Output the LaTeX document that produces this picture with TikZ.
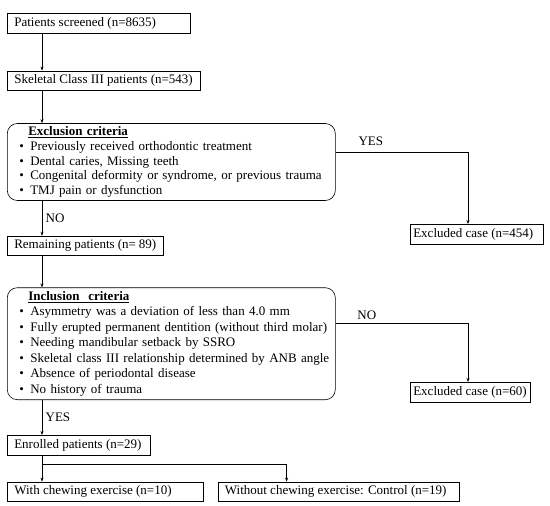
\documentclass[tikz,border=0pt]{standalone}
\usepackage{fontspec}
\setmainfont{Liberation Serif}
\usetikzlibrary{positioning,arrows.meta}

\newcommand{\critem}[1]{\makebox[11pt][l]{\textbullet}\mbox{#1}}

\begin{document}
\begin{tikzpicture}[
    x=1pt, y=-1pt,
    line width=0.6pt,
    font=\fontsize{13}{15}\selectfont,
    stagebox/.style={rectangle, draw, inner xsep=7pt, inner ysep=0pt, minimum height=19.5pt,
        execute at begin node={\hbox to #1\bgroup}, execute at end node={\hfil\egroup}},
    outbox/.style={stagebox=#1, inner xsep=3pt},
    criteria/.style={rectangle, draw, rounded corners=10pt, text width=304pt, align=left, inner xsep=12pt, inner ysep=0pt, minimum height=#1},
    arrow/.style={-{Stealth[length=4pt,width=3pt]}}
]
\useasboundingbox (0,0) rectangle (550,506);

\node[stagebox=169pt, anchor=north west] (screened) at (7,13) {Patients screened (n=8635)};
\node[stagebox=179pt, below=37.5pt of screened.south west, anchor=north west] (skeletal) {Skeletal Class III patients (n=543)};
\node[criteria=77pt, font=\fontsize{13}{14.75}\selectfont, below=32.5pt of skeletal.south west, anchor=north west] (exclusion) {%
    \hspace*{9pt}\underline{\textbf{Exclusion criteria}}\\
    \critem{Previously received orthodontic treatment}\\
    \critem{Dental caries, Missing teeth}\\
    \critem{Congenital deformity or syndrome, or previous trauma}\\
    \critem{TMJ pain or dysfunction}};
\node[stagebox=142pt, below=35pt of exclusion.south west, anchor=north west] (remaining) {Remaining patients (n= 89)};
\node[criteria=112pt, font=\fontsize{13}{15.5}\selectfont, below=31.5pt of remaining.south west, anchor=north west] (inclusion) {%
    \hspace*{9pt}\underline{\textbf{Inclusion\ \ criteria}}\\
    \critem{Asymmetry was a deviation of less than 4.0 mm}\\
    \critem{Fully erupted permanent dentition (without third molar)}\\
    \critem{Needing mandibular setback by SSRO}\\
    \critem{Skeletal class III relationship determined by ANB angle}\\
    \critem{Absence of periodontal disease}\\
    \critem{No history of trauma}};
\node[stagebox=129pt, below=35pt of inclusion.south west, anchor=north west] (enrolled) {Enrolled patients (n=29)};
\node[stagebox=182pt, below=26.5pt of enrolled.south west, anchor=north west] (with) {With chewing exercise (n=10)};
\node[stagebox=227pt, right=14pt of with.north east, anchor=north west] (without) {Without chewing exercise: Control (n=19)};

\node[outbox=127pt, anchor=north west] (excl454) at (410,224) {Excluded case (n=454)};
\node[outbox=114pt, anchor=north west] (excl60) at (410,382) {Excluded case (n=60)};

\coordinate (split) at ([xshift=35pt, yshift=-9pt]enrolled.south west);

\draw[arrow] ([xshift=35pt]screened.south west) -- ([xshift=35pt]skeletal.north west);
\draw[arrow] ([xshift=35pt]skeletal.south west) -- ([xshift=35pt]exclusion.north west);
\draw[arrow] ([xshift=35pt]exclusion.south west) -- node[right] {NO} ([xshift=35pt]remaining.north west);
\draw[arrow] ([yshift=9.5pt]exclusion.east) -| node[above=3.4pt, pos=0.133] {YES} ([xshift=58pt]excl454.north west);
\draw[arrow] ([xshift=35pt]remaining.south west) -- ([xshift=35pt]inclusion.north west);
\draw[arrow] ([yshift=20pt]inclusion.east) -| node[above, pos=0.118] {NO} ([xshift=58pt]excl60.north west);
\draw[arrow] ([xshift=35pt]inclusion.south west) -- node[right] {YES} ([xshift=35pt]enrolled.north west);
\draw[arrow] ([xshift=35pt]enrolled.south west) -- ([xshift=35pt]with.north west);
\draw[arrow] (split) -| ([xshift=69pt]without.north west);

\end{tikzpicture}
\end{document}
